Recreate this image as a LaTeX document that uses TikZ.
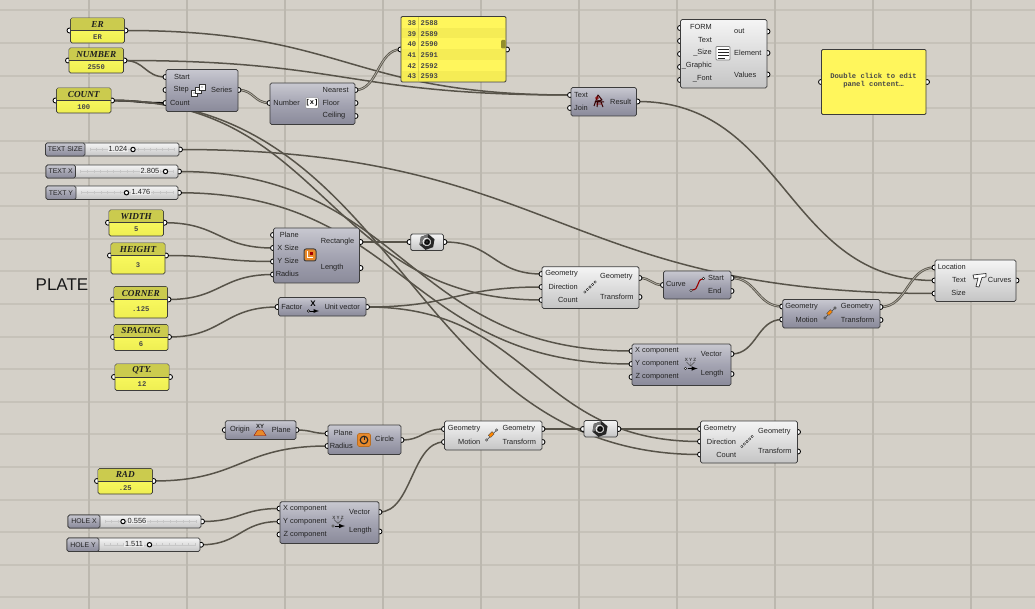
\documentclass[tikz,border=0pt]{standalone}
\usepackage{fontspec}
\setmainfont{Liberation Sans}
\newfontfamily\serifbi{Liberation Serif}
\newfontfamily\monof{Liberation Mono}
\usetikzlibrary{calc,fit}
\definecolor{canvas}{HTML}{D4D0C8}
\definecolor{gridv}{HTML}{BCB8AF}
\definecolor{gridh}{HTML}{C6C2B9}
\definecolor{wirec}{HTML}{575349}
\definecolor{edge}{HTML}{3C3C3C}
\definecolor{ytop}{HTML}{FFFF66}
\definecolor{ybot}{HTML}{EEEE52}
\definecolor{yhead}{HTML}{CBCB4E}
\definecolor{panely}{HTML}{FFF65C}
\definecolor{panelz}{HTML}{F5EC55}
\definecolor{iconorange}{HTML}{E8892A}
\definecolor{txtc}{HTML}{242424}
\definecolor{dtop}{HTML}{C8C8D0}
\definecolor{dmid}{HTML}{A4A4B2}
\definecolor{dbot}{HTML}{8A8A9A}
\definecolor{dblin}{HTML}{B0ACA2}
\pgfdeclarelayer{gridlayer}
\pgfdeclarelayer{wirelayer}
\pgfsetlayers{gridlayer,wirelayer,main}
\tikzset{
  wire/.style={draw=wirec,line width=1.5pt},
  midwire/.style={draw=wirec,line width=2pt},
  thickwire/.style={draw=black!90!wirec,line width=1.9pt},
  dblwire/.style={draw=wirec,line width=0.8pt,double=dblin,double distance=0.8pt},
  port/.style={circle,draw=black,fill=white,line width=0.85pt,inner sep=0pt,minimum size=5pt},
  darkbox/.style={draw=edge,line width=0.8pt,rounded corners=1.6pt,inner sep=0pt,top color=dtop,bottom color=dbot,middle color=dmid},
  lightbox/.style={draw=edge,line width=0.8pt,rounded corners=1.6pt,inner sep=0pt,top color=black!4,bottom color=black!23},
  ybox/.style={draw=edge,line width=0.8pt,rounded corners=1.6pt,inner sep=0pt,top color=ytop,bottom color=ybot},
  pbox/.style={draw=edge,line width=0.8pt,rounded corners=1.2pt,inner sep=0pt,fill=panely},
  lab/.style={font=\fontsize{7.4}{8}\selectfont,text=txtc,inner sep=0pt},
  ptitle/.style={font=\fontsize{9.2}{10}\serifbi\bfseries\itshape,text=black!88,inner sep=0pt},
  pval/.style={font=\fontsize{7.2}{8}\monof\bfseries,text=black!72,inner sep=0pt},
  knob/.style={circle,draw=black,fill=white,line width=1pt,inner sep=0pt,minimum size=4.4pt},
  chain/.style={circle,draw=black!80,fill=white,line width=0.45pt,inner sep=0pt,minimum size=2.4pt},
}
\newcount\lbcnt
\newcommand\il[3]{\global\advance\lbcnt by 1 \node[lab,anchor=east,name=lb\the\lbcnt] at (#1,#2) {#3};}
\newcommand\ol[3]{\global\advance\lbcnt by 1 \node[lab,anchor=west,name=lb\the\lbcnt] at (#1,#2) {#3};}
\newcommand\prt[3]{\node[port] (#1) at ({#2},{#3}) {};}
\newcommand\gbox[6]{\node[#2,fit={(#3,#4)(#5,#6)}] (#1) {};}
% name x1 y1 x2 ysplit y2 title value
\newcommand\yparam[8]{%
  \prt{#1-i}{#2-1}{#5}\prt{#1-o}{#4+1}{#5}%
  \gbox{#1}{ybox}{#2}{#3}{#4}{#6}%
  \fill[yhead,rounded corners=1.2pt] (#2+0.4,#3+0.4) -- (#4-0.4,#3+0.4) -- (#4-0.4,#5) -- (#2+0.4,#5) -- cycle;
  \draw[edge,line width=0.8pt] (#2,#5) -- (#4,#5);
  \node[ptitle,name=#1-t] at ({(#2+#4)/2},{(#3+#5)/2}) {#7};
  \node[pval,name=#1-v] at ({(#2+#4)/2},{(#5+#6)/2+0.3}) {#8};
}
% name x1 y1 x2 y2 xsplit label value valx knobx
\newcommand\slider[9]{\def\sa{#1}\def\sb{#2}\def\sc{#3}\def\sd{#4}\def\se{#5}\def\sf{#6}\def\sg{#7}\def\sh{#8}\def\si{#9}\sliderc}
\newcommand\sliderc[1]{%
  \prt{\sa-o}{\sd+1}{(\sc+\se)/2}%
  \gbox{\sa}{lightbox}{\sb}{\sc}{\sd}{\se}%
  \gbox{\sa-l}{darkbox}{\sb}{\sc}{\sf}{\se}%
  \draw[black!22,line width=0.5pt] (\sf+5,{(\sc+\se)/2}) -- (\sd-5,{(\sc+\se)/2});
  \foreach \tk in {0,1,...,14} {\draw[black!22,line width=0.35pt] ({\sf+5+\tk*(\sd-\sf-10)/14},{(\sc+\se)/2-1.5}) -- ++(0,3);}
  \node[lab,name=\sa-t,font=\fontsize{6.9}{8}\selectfont] at ({(\sb+\sf)/2},{(\sc+\se)/2}) {\sg};
  \node[lab,name=\sa-v,fill=black!8,inner xsep=1pt] at (\si,{(\sc+\se)/2-0.5}) {\sh};
  \node[knob,name=\sa-k] at (#1,{(\sc+\se)/2}) {};
}
\newcommand\wire[3][wire]{\begin{pgfonlayer}{wirelayer}\draw[#1] let \p1=(#2),\p2=(#3) in (\p1) .. controls ({\x1+0.5*abs(\x2-\x1)},{\y1}) and ({\x2-0.5*abs(\x2-\x1)},{\y2}) .. (\p2);\end{pgfonlayer}}
\newcommand\hexicon[2]{%
  \begin{scope}[shift={(#1,#2)},rotate=20]
    \fill[black!85] (8,0) -- (4,6.9) -- (-4,6.9) -- (-8,0) -- (-4,-6.9) -- (4,-6.9) -- cycle;
    \fill[black!55] (-8,0) -- (-4,-6.9) -- (4,-6.9) -- (1,-3) -- (-3.5,0) -- cycle;
    \draw[black!25,line width=1pt] (0,0) circle (3.7);
    \draw[black,line width=0.8pt] (0,0) circle (2);
    \draw[white,line width=0.6pt] (-3.8,1.5) arc (160:300:4.2);
  \end{scope}}
\newcommand\arrayicon[2]{%
  \begin{scope}[shift={(#1,#2)}]
    \foreach \q in {-2,-1,0,1,2} {\node[chain] at (\q*2.6,-\q*2.5) {};}
  \end{scope}}
\newcommand\xyzicon[2]{%
  \begin{scope}[shift={(#1,#2)}]
    \node[font=\fontsize{4.6}{5}\selectfont\bfseries,text=black!75,inner sep=0pt] at (0,-4.5) {X Y Z};
    \draw[black!70,line width=0.4pt] (-4,-2.5) -- (0,1.5) (0,-2.5) -- (0,1.5) (4,-2.5) -- (0,1.5);
    \draw[black,line width=1pt,-latex] (-3,4) -- (7,4);
    \node[circle,draw=black!80,fill=white,line width=0.5pt,inner sep=0pt,minimum size=2.6pt] at (-5,4) {};
  \end{scope}}
\newcommand\moveicon[2]{%
  \begin{scope}[shift={(#1,#2)}]
    \draw[black!75,line width=0.6pt] (-5,5) -- (5,-5);
    \fill[orange!95!yellow,draw=black!70,line width=0.35pt] (-3.4,0.4) -- (0.4,-3.4) -- (2.4,-1) -- (-1,2.4) -- cycle;
    \node[chain] at (-5,5) {};
    \node[chain] at (5,-5) {};
  \end{scope}}
\begin{document}
\begin{tikzpicture}[x=1pt,y=-1pt]
\useasboundingbox (0,0) rectangle (1035,609);
\begin{pgfonlayer}{gridlayer}
  \fill[canvas] (0,0) rectangle (1035,609);
  \foreach \gy in {10,43,76,108,141,173,206,239,271,304,337,369,402,434,467,500,532,565,597}
    {\draw[gridh,line width=1.1pt] (0,\gy) -- (1035,\gy);}
  \foreach \gx in {89,187,285,383,481,579,677,775,873,971}
    {\draw[gridv,line width=1.1pt] (\gx,0) -- (\gx,609);}
\end{pgfonlayer}

\node[font=\fontsize{17}{18}\selectfont,text=black!90,inner sep=0pt] (plate) at (62,285) {PLATE};

% parameters
\yparam{er}{70.5}{18}{124.5}{30.5}{43}{ER}{ER}
\yparam{number}{69}{48}{123.5}{60.5}{73}{NUMBER}{2550}
\yparam{count}{56.5}{88}{111}{100.5}{113}{COUNT}{100}
\yparam{width}{109}{210}{163.5}{222.7}{236}{WIDTH}{5}
\yparam{height}{111}{243}{165}{255.5}{274}{HEIGHT}{3}
\yparam{corner}{114}{286.5}{167.5}{299.5}{318}{CORNER}{.125}
\yparam{spacing}{114}{324.5}{168}{337}{350.5}{SPACING}{6}
\yparam{qty}{115}{364}{169}{377}{390.5}{QTY.}{12}
\yparam{rad}{98}{468.5}{152.5}{481}{494}{RAD}{.25}

% sliders
\slider{ts}{45.5}{143}{179}{156}{85}{TEXT SIZE}{1.024}{118}{133}
\slider{tx}{46}{165}{178}{178}{75.5}{TEXT X}{2.805}{150}{165.5}
\slider{ty}{46}{186}{178}{199.5}{76}{TEXT Y}{1.476}{141}{126.5}
\slider{hx}{68}{515}{201}{528}{100}{HOLE X}{0.556}{137}{123}
\slider{hy}{67}{538}{200}{551.5}{99}{HOLE Y}{1.511}{134}{149.5}

% Series
\prt{se-a}{165.5}{77}\prt{se-b}{165.5}{90}\prt{se-c}{165.5}{103}\prt{se-o}{238.5}{90}
\gbox{series}{darkbox}{166}{69.5}{238}{111.5}
\il{190}{77}{Start}\il{189}{90}{Step}\il{190}{103}{Count}\ol{211}{90}{Series}
\foreach \dx/\dy in {-4/3,0/0,4/-3} {\draw[black!80,fill=white,line width=0.5pt] (198+\dx-3,90+\dy-3) rectangle ++(6,6);
  \fill[black!75] (198+\dx,90+\dy) circle (0.6);}

% Number
\prt{nu-i}{269.5}{103}\prt{nu-a}{355.5}{90}\prt{nu-b}{355.5}{103}\prt{nu-c}{355.5}{116}
\gbox{numnode}{darkbox}{270}{83}{355}{124.5}
\il{300}{103}{Number}\ol{322.5}{90}{Nearest}\ol{322.5}{103}{Floor}\ol{322.5}{116}{Ceiling}
\node[draw=black!55,fill=white,rounded corners=1pt,minimum size=10.5pt,inner sep=0pt,font=\fontsize{7}{8}\monof\bfseries] (numicon) at (312,103) {[x]};

% big panel
\prt{pa-i}{400.5}{49.5}\prt{pa-o}{507}{49.5}
\gbox{panela}{pbox}{401}{16.5}{506}{82}
\foreach \ry in {1,3,5} {\fill[panelz] (402,{17+\ry*10.75}) rectangle (505,{17+(\ry+1)*10.75});}
\draw[panelz!90!black,line width=0.5pt] (418,17) -- (418,81.5);
\foreach \rn/\rv [count=\ri from 0] in {38/2588,39/2589,40/2590,41/2591,42/2592,43/2593} {
  \node[pval,anchor=east,name=pr\ri] at (416.5,{23.5+\ri*10.55}) {\rn};
  \node[pval,anchor=west,name=ps\ri] at (420.5,{23.5+\ri*10.55}) {\rv};}
\fill[panelz!55!black!90!yellow,rounded corners=1pt] (501,40) rectangle (505.5,48.5);

% Text join
\prt{tj-a}{570}{95}\prt{tj-b}{570}{108}\prt{tj-o}{637.5}{101.5}
\gbox{tjoin}{darkbox}{571}{87.5}{636.5}{116}
\il{588}{95}{Text}\il{588}{108}{Join}\ol{610}{101.5}{Result}
\begin{scope}[shift={(599,101)}]
  \draw[black!80!red,line width=1pt,line join=round] (-5,5) -- (-1,-6) -- (3,-1) -- (-4,1) -- (5,1) (-1,-1) -- (-2,6) (2,1) -- (4,6);
  \draw[red!55!black,line width=0.7pt] (-2,-3) circle (1.4) (3,3) -- (-3,3);
\end{scope}

% Format
\prt{fo-a}{680}{28}\prt{fo-b}{680}{41}\prt{fo-c}{680}{54}\prt{fo-d}{680}{67}\prt{fo-e}{680}{80}
\prt{fo-x}{767.5}{31.5}\prt{fo-y}{767.5}{53}\prt{fo-z}{767.5}{74.5}
\gbox{format}{lightbox}{680.5}{19.5}{767}{88}
\il{712}{27}{FORM}\il{712}{40}{Text}\il{712}{53}{\_Size}\il{712}{66}{\_Graphic}\il{712}{79}{\_Font}
\ol{734}{31.5}{out}\ol{734}{53}{Element}\ol{734}{74.5}{Values}
\draw[black!50,fill=white,rounded corners=0.8pt,line width=0.7pt] (716,46.5) rectangle (730,60);
\draw[black!85,line width=0.9pt] (718,49) -- (728.5,49) (718,52) -- (728.5,52) (718,55) -- (728.5,55) (718,58) -- (725,58);

% empty panel
\prt{pb-i}{821}{82}\prt{pb-o}{927}{82}
\gbox{panelb}{pbox}{821.5}{49.5}{926}{114.5}
\node[pval,align=center,name=pbt,font=\fontsize{7.2}{8.2}\monof\bfseries] at (873.5,81) {Double click to edit\\panel content…};

% Rectangle
\prt{re-a}{273}{235}\prt{re-b}{273}{248}\prt{re-c}{273}{261.5}\prt{re-d}{273}{274.5}\prt{re-x}{360.5}{242}\prt{re-y}{360.5}{268}
\gbox{rect}{darkbox}{273.5}{228}{359.5}{283}
\il{299}{235}{Plane}\il{299}{248}{X Size}\il{299}{261}{Y Size}\il{299}{274}{Radius}\ol{320.7}{241.5}{Rectangle}\ol{320.7}{268}{Length}
\draw[black!75,fill=iconorange,rounded corners=2pt,line width=1pt] (304,249) rectangle (316,261);
\draw[white,line width=1pt] (307.5,251.5) -- (307.5,257.5) -- (313,257.5);
\fill[red!65!black] (310,252) rectangle (313,255);

% Unit vector
\prt{uv-i}{277.5}{307}\prt{uv-o}{367}{307}
\gbox{unitv}{darkbox}{278.5}{297.5}{366}{316}
\il{302.5}{306.5}{Factor}\ol{324.3}{306.5}{Unit vector}
\node[font=\fontsize{8}{8}\selectfont\bfseries,text=black,inner sep=0pt,name=uvx] at (313,303.5) {X};
\draw[black,line width=0.9pt,-latex] (310,311) -- (319,311);
\draw[black,fill=white,line width=0.5pt] (308.5,311) circle (1.2);

% Hex 1
\prt{ha-i}{409.5}{242}\prt{ha-o}{444.5}{242}
\gbox{hexa}{lightbox}{410.7}{234}{443.5}{250.5}
\hexicon{427}{242}

% Array 1
\prt{aa-a}{541.5}{274}\prt{aa-b}{541.5}{287}\prt{aa-c}{541.5}{300}\prt{aa-x}{639.5}{278}\prt{aa-y}{639.5}{297}
\gbox{arraya}{lightbox}{542}{266.7}{639}{308.5}
\il{578}{273.7}{Geometry}\il{578}{286.7}{Direction}\il{578}{300}{Count}\ol{600}{277}{Geometry}\ol{600}{296.5}{Transform}
\arrayicon{590}{287}

% Curve
\prt{cu-i}{663}{285}\prt{cu-a}{731.5}{278}\prt{cu-b}{731.5}{291}
\gbox{curve}{darkbox}{663.5}{271}{731}{299}
\il{686}{284}{Curve}\ol{708}{277.5}{Start}\ol{708}{290.5}{End}
\draw[red!60!black,line width=1.1pt] (692,290) .. controls (700,290) and (696,279) .. (703,279);
\node[chain] at (691,290.5) {};\node[chain] at (703.5,278.5) {};

% XYZ 1
\prt{xa-a}{631.5}{351}\prt{xa-b}{631.5}{364}\prt{xa-c}{631.5}{377}\prt{xa-x}{731.5}{354}\prt{xa-y}{731.5}{374}
\gbox{xyza}{darkbox}{632}{344}{731}{385.5}
\il{679}{351}{X component}\il{679}{364}{Y component}\il{679}{377}{Z component}\ol{700.7}{354}{Vector}\ol{700.7}{374}{Length}
\xyzicon{690.5}{364.5}

% Move 1
\prt{ma-a}{782.2}{306.5}\prt{ma-b}{782.2}{319.5}\prt{ma-x}{880.5}{307}\prt{ma-y}{880.5}{320}
\gbox{movea}{darkbox}{782.7}{299.5}{880}{328}
\il{818}{306.5}{Geometry}\il{818}{319.5}{Motion}\ol{840.7}{306.5}{Geometry}\ol{840.7}{319.5}{Transform}
\moveicon{830}{313}

% Text tag
\prt{tt-a}{934.5}{267.5}\prt{tt-b}{934.5}{280.5}\prt{tt-c}{934.5}{293.5}\prt{tt-o}{1016.5}{280.5}
\gbox{ttag}{lightbox}{935}{260}{1016}{301.5}
\il{966}{267}{Location}\il{966}{280}{Text}\il{966}{293}{Size}\ol{987.7}{280}{Curves}
\draw[black!80,fill=white,line width=0.7pt,line join=round] (973,275) -- (986,273.5) -- (986,277) -- (982,277.5) -- (979,287) -- (976,286.5) -- (978,278) -- (974,279) -- cycle;

% XY plane
\prt{xy-i}{224.8}{430}\prt{xy-o}{296.5}{430}
\gbox{xyp}{darkbox}{225.3}{420.7}{296}{439.5}
\il{250}{429.5}{Origin}\ol{271.7}{429.5}{Plane}
\node[font=\fontsize{6}{6}\selectfont\bfseries,text=black!85,inner sep=0pt,name=xylab] at (260,426.5) {XY};
\fill[iconorange,draw=red!50!black,line width=0.3pt] (254,435.5) -- (257.5,430) -- (262.5,430) -- (266,435.5) -- cycle;

% Circle
\prt{ci-a}{327.5}{433.5}\prt{ci-b}{327.5}{446}\prt{ci-o}{401.5}{440}
\gbox{circ}{darkbox}{328}{425}{401}{454.5}
\il{353}{433}{Plane}\il{353}{446}{Radius}\ol{375}{439}{Circle}
\draw[iconorange!80!black,fill=iconorange,rounded corners=1.5pt,line width=0.6pt] (357.5,433.5) rectangle (370.5,446.5);
\draw[black!85,line width=1.1pt] (364,440) circle (3.8);
\draw[black!85,line width=0.9pt] (364,440) -- (364,436);

% XYZ 2
\prt{xb-a}{279.5}{508.5}\prt{xb-b}{279.5}{521.5}\prt{xb-c}{279.5}{534.5}\prt{xb-x}{379.5}{512}\prt{xb-y}{379.5}{531.5}
\gbox{xyzb}{darkbox}{280}{501.7}{379}{543.5}
\il{327}{508.5}{X component}\il{327}{521.5}{Y component}\il{327}{534.5}{Z component}\ol{349}{512}{Vector}\ol{349}{531}{Length}
\xyzicon{338}{522}

% Move 2
\prt{mb-a}{444}{429}\prt{mb-b}{444}{442}\prt{mb-x}{542.5}{429}\prt{mb-y}{542.5}{442}
\gbox{moveb}{lightbox}{444.5}{421}{542}{450}
\il{480.5}{428.5}{Geometry}\il{480.5}{441.5}{Motion}\ol{502.3}{428.5}{Geometry}\ol{502.3}{441.5}{Transform}
\moveicon{491.7}{435}

% Hex 2
\prt{hb-i}{583}{429}\prt{hb-o}{618.5}{429}
\gbox{hexb}{lightbox}{584}{420.5}{617.5}{437}
\hexicon{600}{429}

% Array 2
\prt{ab-a}{700}{429}\prt{ab-b}{700}{441.5}\prt{ab-c}{700}{454.5}\prt{ab-x}{798}{432}\prt{ab-y}{798}{451.5}
\gbox{arrayb}{lightbox}{700.5}{421}{797.5}{463}
\il{736.3}{428.5}{Geometry}\il{736.3}{441.5}{Direction}\il{736.3}{454.5}{Count}\ol{758}{431.5}{Geometry}\ol{758}{451}{Transform}
\arrayicon{747}{441.5}

% wires
\wire{er-o}{tj-a}
\wire{number-o}{tj-a}
\wire{number-o}{se-a}
\wire[thickwire]{count-o}{se-c}
\wire{count-o}{aa-c}
\wire{count-o}{ab-c}
\wire[dblwire]{se-o}{nu-i}
\wire[dblwire]{nu-a}{pa-i}
\wire{tj-o}{tt-b}
\wire{ts-o}{tt-c}
\wire{tx-o}{xa-a}
\wire{ty-o}{xa-b}
\wire{width-o}{re-b}
\wire{height-o}{re-c}
\wire{corner-o}{re-d}
\wire{spacing-o}{uv-i}
\wire{re-x}{ha-i}
\wire{ha-o}{aa-a}
\wire{uv-o}{aa-b}
\wire{uv-o}{ab-b}
\wire[dblwire]{aa-x}{cu-i}
\wire[dblwire]{cu-a}{ma-a}
\wire{xa-x}{ma-b}
\wire[dblwire]{ma-x}{tt-a}
\wire{xy-o}{ci-a}
\wire{rad-o}{ci-b}
\wire{ci-o}{mb-a}
\wire{xb-x}{mb-b}
\wire{hx-o}{xb-a}
\wire{hy-o}{xb-b}
\wire[midwire]{mb-x}{hb-i}
\wire[midwire]{hb-o}{ab-a}
\end{tikzpicture}
\end{document}
